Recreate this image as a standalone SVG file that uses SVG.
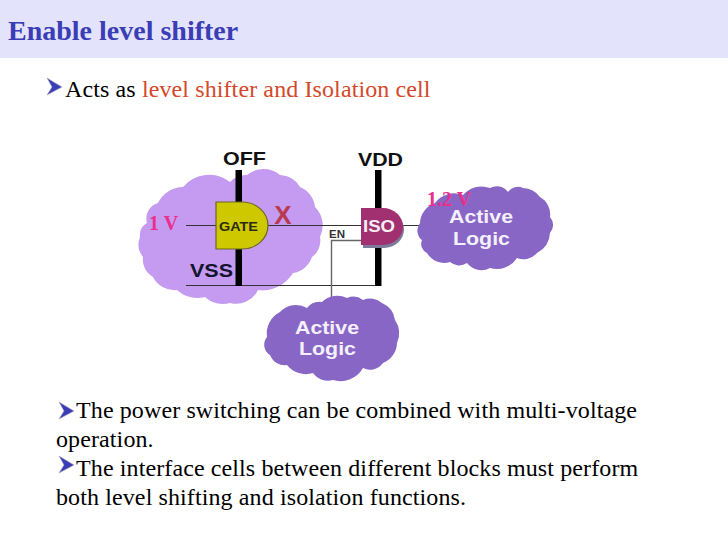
<svg xmlns="http://www.w3.org/2000/svg" width="728" height="546" viewBox="0 0 728 546">
<style>
.body{font-family:"Liberation Serif","Times New Roman",serif;font-size:24px;letter-spacing:.11px;fill:#000}
.red{fill:#d2492a}
.title{font-family:"Liberation Serif","Times New Roman",serif;font-size:28px;font-weight:bold;fill:#3a3db5}
.sans{font-family:"Liberation Sans",Arial,sans-serif;font-weight:bold}
.volt{font-family:"Liberation Serif","Times New Roman",serif;font-size:20px;font-weight:bold;fill:#e8308c}
.bar{fill:#000}
.wire{stroke:#333;stroke-width:1;fill:none}
.en{stroke:#666;stroke-width:1.4;fill:none}
.wh{fill:#f4f0fb;font-size:17.500px}
</style>
<defs>
<path id="bullet" d="M0 0L15 9L0 17L5 9Z" fill="#3a3db5" stroke="#aab" stroke-width="0.6"/>
</defs>
<rect width="728" height="546" fill="#fff"/>
<rect width="728" height="58" fill="#e3e3fb"/>
<text class="title" x="8" y="40">Enable level shifter</text>
<use href="#bullet" x="47" y="78"/>
<text class="body" x="65" y="97">Acts as <tspan class="red">level shifter and Isolation cell</tspan></text>

<g id="cloud-left">
<path fill="#c49bf0" d="M158 203A28 28 0 0 1 183 187A34 34 0 0 1 230 182A22 22 0 0 1 247 175A26 26 0 0 1 280 175A24 24 0 0 1 300 187A24 24 0 0 1 315 207A26 26 0 0 1 320 237A20 20 0 0 1 312 257A24 24 0 0 1 293 273A36 36 0 0 1 258 290A24 24 0 0 1 230 303A26 26 0 0 1 205 297A30 30 0 0 1 177 290A24 24 0 0 1 153 277A20 20 0 0 1 143 257A20 20 0 0 1 140 237A14 14 0 0 1 147 223A16 16 0 0 1 158 203Z"/>
<text class="volt" x="149" y="230">1 V</text>
</g>

<g id="connectors">
<path class="wire" d="M186 225.5H216M268 225.5H361M186 285.5H378M403 225.5H420"/>
<path class="en" d="M331.5 330V240.5H361"/>
</g>

<g id="off-rail">
<rect class="bar" x="235.500" y="170" width="6.500" height="116"/>
<text class="sans" x="223" y="165" font-size="18" textLength="43" lengthAdjust="spacingAndGlyphs" fill="#111">OFF</text>
</g>
<g id="vdd-rail">
<rect class="bar" x="375" y="170" width="6.500" height="116"/>
<text class="sans" x="358" y="166" font-size="18" textLength="45" lengthAdjust="spacingAndGlyphs" fill="#111">VDD</text>
</g>
<g id="gate">
<path d="M216 202H242A26 23.500 0 0 1 242 249H216Z" fill="#cdc800" stroke="#6b6620" stroke-width="1.200"/>
<text class="sans" x="219" y="231" font-size="13" textLength="39" lengthAdjust="spacingAndGlyphs" fill="#2a2a10">GATE</text>
</g>
<g id="x-mark">
<text class="sans" x="283" y="224" font-size="26" text-anchor="middle" fill="#b83a50">X</text>
</g>
<g id="vss">
<text class="sans" x="190" y="277" font-size="18" textLength="43" lengthAdjust="spacingAndGlyphs" fill="#14142e">VSS</text>
</g>
<g id="en-label">
<text class="sans" x="329" y="238" font-size="10" textLength="16" lengthAdjust="spacingAndGlyphs" fill="#333">EN</text>
</g>
<g id="iso">
<path d="M363 211H384A20 18.500 0 0 1 384 248H363Z" fill="#7d7a9a"/>
<path d="M361 208H383A20 18.500 0 0 1 383 245H361Z" fill="#a0306f"/>
<text class="sans" x="363" y="232" font-size="16" textLength="32" lengthAdjust="spacingAndGlyphs" fill="#f6eef3">ISO</text>
</g>
<g id="cloud-right">
<path fill="#8866c6" d="M420 223A22 22 0 0 1 435 203A24 24 0 0 1 463 195A24 24 0 0 1 490 188A14 14 0 0 1 508 192A12 12 0 0 1 523 188A22 22 0 0 1 540 197A20 20 0 0 1 550 217A12 12 0 0 1 550 233A24 24 0 0 1 537 253A18 18 0 0 1 517 258A24 24 0 0 1 490 268A18 18 0 0 1 467 263A14 14 0 0 1 450 262A20 20 0 0 1 427 253A10 10 0 0 1 422 240A12 12 0 0 1 420 223Z"/>
<text class="sans wh" x="449" y="223" textLength="64" lengthAdjust="spacingAndGlyphs">Active</text>
<text class="sans wh" x="453" y="245" textLength="57" lengthAdjust="spacingAndGlyphs">Logic</text>
<text class="volt" x="427" y="206">1.2 V</text>
</g>
<g id="cloud-bottom">
<path fill="#8866c6" d="M267 337A24 24 0 0 1 280 312A22 22 0 0 1 307 308A16 16 0 0 1 322 302A22 22 0 0 1 347 298A16 16 0 0 1 363 300A18 18 0 0 1 382 303A22 22 0 0 1 395 320A24 24 0 0 1 397 343A22 22 0 0 1 383 363A16 16 0 0 1 363 368A26 26 0 0 1 333 380A18 18 0 0 1 313 373A24 24 0 0 1 287 365A16 16 0 0 1 270 355A12 12 0 0 1 267 337Z"/>
<text class="sans wh" x="295" y="334" textLength="64" lengthAdjust="spacingAndGlyphs">Active</text>
<text class="sans wh" x="299" y="355" textLength="57" lengthAdjust="spacingAndGlyphs">Logic</text>
</g>

<use href="#bullet" x="59" y="402"/>
<text class="body" x="76" y="418">The power switching can be combined with multi-voltage</text>
<text class="body" x="56" y="447">operation.</text>
<use href="#bullet" x="59" y="456"/>
<text class="body" x="76" y="476">The interface cells between different blocks must perform</text>
<text class="body" x="56" y="505">both level shifting and isolation functions.</text>
</svg>
